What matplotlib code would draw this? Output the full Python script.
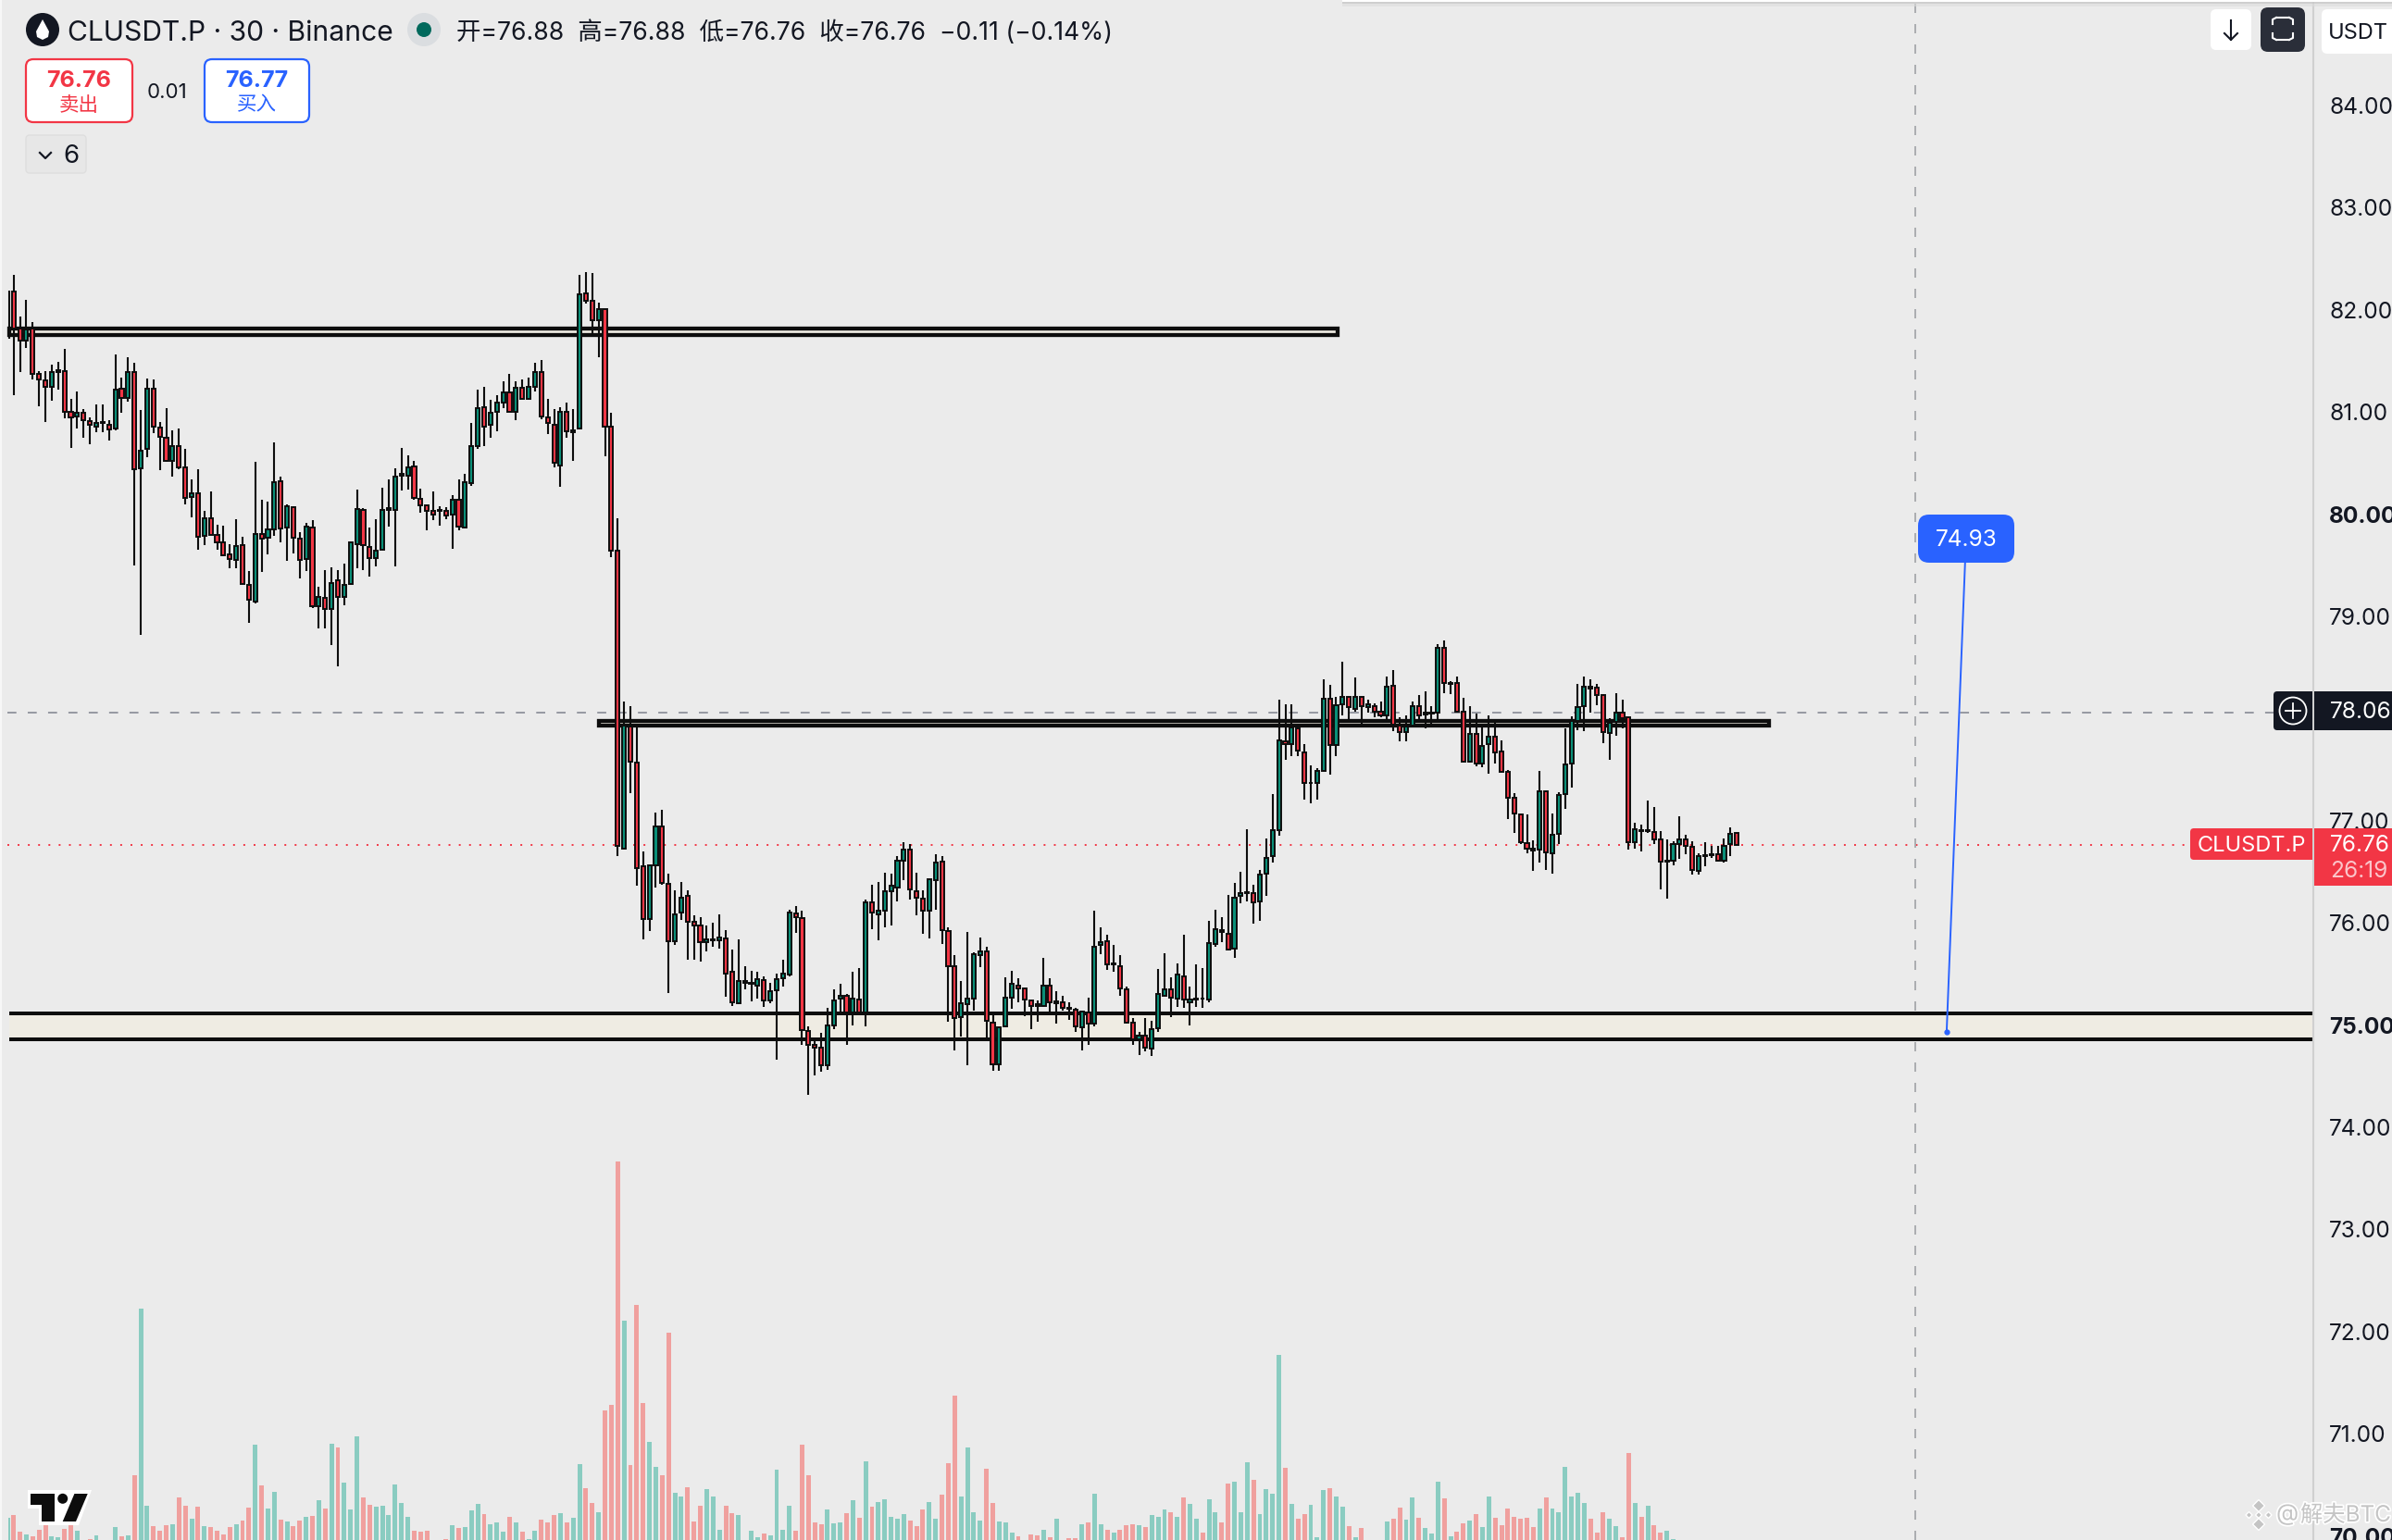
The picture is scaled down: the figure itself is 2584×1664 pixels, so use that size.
import numpy as np
import matplotlib
matplotlib.use('Agg')
import matplotlib.pyplot as plt
from matplotlib.patches import Rectangle, FancyBboxPatch, Circle, Polygon
from matplotlib.ticker import FormatStrFormatter
from matplotlib.transforms import Affine2D
import matplotlib.patheffects as pe

plt.rcParams['font.family'] = ['Inter', 'Noto Sans CJK SC', 'DejaVu Sans']

W, H = 2584, 1664
BG = '#ebebeb'
RED = '#f23645'
GREEN = '#0a8f78'
BLUE = '#2962ff'
INK = '#131722'

# 每根K线: 第一根是左边被裁掉的那根
highs = [82.19,
 82.34,81.93,82.10,81.88,81.40,81.40,81.46,81.49,81.62,81.13,
 81.20,81.03,80.95,81.07,81.07,80.92,81.56,81.34,81.54,81.48,
 81.02,81.33,81.32,80.90,81.04,80.82,80.84,80.64,80.34,80.44,
 80.03,80.22,79.90,79.89,79.71,79.95,79.78,79.44,80.51,80.14,
 80.12,80.70,80.37,80.10,80.08,79.82,79.91,79.94,79.29,79.45,
 79.48,79.45,79.52,79.72,80.24,80.06,79.87,79.95,80.26,80.34,
 80.45,80.65,80.58,80.52,80.25,80.09,80.22,80.08,80.07,80.19,
 80.34,80.39,80.89,81.22,81.25,81.12,81.16,81.30,81.37,81.30,
 81.32,81.34,81.48,81.51,81.13,81.03,81.05,81.09,81.03,82.34,
 82.37,82.36,82.07,82.01,80.99,79.96,78.17,78.12,77.93,76.70,
 76.56,77.08,77.11,76.48,76.32,76.40,76.32,76.07,76.06,75.97,
 76.00,76.08,75.93,75.74,75.84,75.58,75.53,75.52,75.48,75.41,
 75.50,75.64,76.13,76.16,76.12,74.99,74.85,74.92,75.17,75.35,
 75.40,75.30,75.52,75.56,76.23,76.37,76.40,76.49,76.48,76.65,
 76.79,76.77,76.49,76.32,76.43,76.67,76.65,75.96,75.68,75.43,
 75.91,75.71,75.86,75.77,75.10,74.98,75.47,75.53,75.46,75.37,
 75.24,75.24,75.66,75.46,75.33,75.29,75.22,75.17,75.14,75.27,
 76.12,75.96,75.88,75.78,75.68,75.38,75.07,74.93,75.07,75.04,
 75.55,75.70,75.47,75.60,75.88,75.38,75.59,75.56,76.02,76.13,
 76.06,76.27,76.39,76.50,76.92,76.37,76.52,76.83,77.26,78.18,
 78.14,78.14,77.92,77.75,77.54,77.51,78.38,78.33,78.21,78.56,
 78.21,78.40,78.21,78.18,78.15,78.17,78.41,78.47,78.01,78.03,
 78.17,78.23,78.27,78.12,78.73,78.76,78.37,78.41,78.20,78.12,
 78.05,77.93,78.03,77.98,77.79,77.50,77.27,77.07,77.06,76.81,
 77.49,77.30,77.07,77.28,77.90,78.02,78.34,78.41,78.38,78.34,
 78.24,78.00,78.25,78.18,78.01,76.98,76.96,77.20,77.13,76.90,
 76.82,76.80,77.04,76.86,76.80,76.68,76.79,76.75,76.75,76.83,
 76.93,76.88]
lows = [81.72,
 81.16,81.39,81.63,81.32,81.06,80.90,81.11,81.22,80.94,80.65,
 80.84,80.75,80.68,80.80,80.80,80.72,80.82,80.99,81.10,79.50,
 78.82,80.56,80.79,80.43,80.51,80.37,80.44,80.10,79.97,79.65,
 79.70,79.80,79.65,79.59,79.47,79.47,79.32,78.94,79.13,79.43,
 79.61,79.79,79.72,79.54,79.62,79.37,79.44,79.08,78.88,78.88,
 78.72,78.51,79.11,79.31,79.47,79.45,79.39,79.49,79.65,79.88,
 79.49,80.23,80.24,80.14,80.01,79.84,79.94,79.89,79.95,79.66,
 79.84,79.87,80.28,80.64,80.67,80.75,80.81,81.04,81.00,80.92,
 81.13,81.12,81.20,80.93,80.78,80.46,80.27,80.75,80.52,80.83,
 82.06,81.76,81.54,80.57,79.58,76.65,76.73,77.27,76.36,75.84,
 75.92,76.35,76.37,75.31,75.78,76.03,75.64,75.64,75.62,75.72,
 75.77,75.75,75.28,75.19,75.20,75.35,75.23,75.26,75.18,75.21,
 74.66,75.38,75.48,75.90,74.81,74.32,74.51,74.54,74.56,74.96,
 75.13,74.81,75.00,75.11,74.99,75.94,75.83,75.96,75.97,76.21,
 76.42,76.23,76.07,75.89,75.85,76.13,75.79,75.03,74.75,74.89,
 74.61,75.14,75.57,74.88,74.55,74.55,74.98,75.16,75.22,75.09,
 74.96,75.03,75.18,75.11,75.01,75.14,75.05,74.93,74.75,74.81,
 74.99,75.69,75.54,75.52,75.29,75.01,74.81,74.71,74.74,74.70,
 74.93,75.29,75.08,75.18,75.17,75.00,75.18,75.17,75.22,75.77,
 75.81,75.73,75.66,76.19,76.21,75.99,76.02,76.26,76.59,76.85,
 77.60,77.63,77.63,77.21,77.17,77.21,77.49,77.45,77.63,78.03,
 77.97,78.07,77.92,78.06,78.01,78.01,77.98,77.88,77.78,77.78,
 77.93,77.99,77.90,77.95,77.99,78.25,78.24,78.07,77.58,77.57,
 77.53,77.52,77.46,77.56,77.48,77.02,76.88,76.77,76.68,76.51,
 76.59,76.52,76.48,76.77,77.12,77.32,77.89,77.88,78.06,78.13,
 77.76,77.60,77.83,77.90,76.72,76.73,76.70,76.88,76.77,76.33,
 76.24,76.56,76.63,76.67,76.47,76.47,76.55,76.64,76.60,76.59,
 76.65,76.76]
body_tops = [81.83,
 82.18,81.82,81.81,81.82,81.37,81.31,81.39,81.41,81.40,81.00,
 80.99,80.99,80.91,80.89,80.90,80.87,81.22,81.23,81.39,81.39,
 80.62,81.23,81.23,80.85,80.75,80.67,80.67,80.46,80.20,80.20,
 79.96,79.96,79.80,79.72,79.61,79.69,79.70,79.31,79.81,79.81,
 79.85,80.31,80.32,80.08,80.07,79.76,79.88,79.87,79.19,79.18,
 79.33,79.35,79.31,79.72,80.05,80.04,79.68,79.64,80.04,80.06,
 80.37,80.39,80.46,80.47,80.15,80.09,80.03,80.04,80.03,80.14,
 80.14,80.31,80.67,81.04,81.05,80.99,81.09,81.19,81.19,81.24,
 81.24,81.25,81.39,81.39,80.95,80.87,81.00,81.00,80.82,82.15,
 82.16,82.09,82.01,82.01,80.86,79.64,77.93,77.92,77.57,76.55,
 76.56,76.94,76.94,76.38,76.08,76.25,76.26,76.01,75.97,75.84,
 75.84,75.86,75.85,75.52,75.43,75.43,75.41,75.45,75.44,75.33,
 75.45,75.50,76.10,76.09,76.05,74.94,74.81,74.78,75.00,75.24,
 75.29,75.29,75.26,75.25,76.20,76.20,76.12,76.31,76.36,76.61,
 76.72,76.72,76.31,76.24,76.43,76.59,76.60,75.92,75.58,75.21,
 75.26,75.69,75.72,75.72,75.02,74.98,75.27,75.40,75.39,75.36,
 75.24,75.20,75.39,75.39,75.23,75.22,75.17,75.15,75.13,75.12,
 75.77,75.81,75.82,75.60,75.58,75.35,75.02,74.90,74.90,74.96,
 75.30,75.35,75.35,75.49,75.48,75.25,75.26,75.26,75.80,75.94,
 75.93,75.89,76.25,76.29,76.30,76.29,76.47,76.64,76.91,77.79,
 77.78,77.91,77.90,77.67,77.37,77.49,78.19,78.19,78.13,78.21,
 78.21,78.21,78.21,78.14,78.12,78.07,78.31,78.32,77.93,77.92,
 78.12,78.12,78.06,78.06,78.69,78.69,78.35,78.35,78.07,77.85,
 77.85,77.73,77.82,77.82,77.68,77.48,77.22,77.06,76.78,76.73,
 77.29,77.29,76.86,77.25,77.55,77.98,78.11,78.31,78.31,78.30,
 78.23,77.96,78.06,78.06,78.01,76.92,76.91,76.91,76.89,76.82,
 76.61,76.77,76.82,76.82,76.74,76.65,76.66,76.67,76.67,76.75,
 76.87,76.88]
body_bots = [81.75,
 81.82,81.70,81.70,81.37,81.32,81.25,81.25,81.39,81.00,80.95,
 80.96,80.92,80.87,80.86,80.89,80.83,80.84,81.14,81.14,80.44,
 80.45,80.64,80.86,80.76,80.52,80.52,80.46,80.16,80.17,79.78,
 79.79,79.80,79.72,79.60,79.56,79.55,79.32,79.16,79.14,79.76,
 79.77,79.85,79.86,79.87,79.77,79.55,79.56,79.10,79.10,79.07,
 79.07,79.19,79.19,79.32,79.71,79.70,79.57,79.57,79.65,80.04,
 80.04,80.38,80.38,80.16,80.09,80.03,80.00,80.03,79.99,80.00,
 79.88,79.87,80.30,80.67,80.86,80.87,81.00,81.09,81.00,81.00,
 81.13,81.13,81.25,80.96,80.89,80.50,80.48,80.81,80.80,80.84,
 82.09,81.90,81.90,80.86,79.64,76.75,76.73,77.58,76.54,76.04,
 76.04,76.56,76.39,75.82,75.82,76.10,76.01,75.97,75.81,75.81,
 75.83,75.83,75.50,75.22,75.21,75.41,75.40,75.39,75.24,75.24,
 75.34,75.46,75.49,76.06,74.95,74.81,74.78,74.61,74.61,75.00,
 75.26,75.12,75.12,75.12,75.12,76.10,76.08,76.12,76.31,76.35,
 76.61,76.33,76.25,76.12,76.12,76.42,75.93,75.58,75.07,75.08,
 75.20,75.26,75.68,75.04,74.62,74.62,74.99,75.27,75.36,75.25,
 75.19,75.19,75.19,75.22,75.21,75.17,75.16,74.99,74.98,75.01,
 75.01,75.78,75.59,75.59,75.36,75.02,74.86,74.86,74.78,74.77,
 74.97,75.29,75.27,75.26,75.25,75.22,75.25,75.26,75.25,75.79,
 75.91,75.74,75.75,76.26,76.29,76.20,76.21,76.48,76.65,76.91,
 77.75,77.75,77.69,77.37,77.37,77.37,77.49,77.74,77.74,78.14,
 78.11,78.09,78.12,78.11,78.07,78.03,78.03,77.94,77.87,77.87,
 77.93,78.03,78.04,78.05,78.06,78.35,78.34,78.07,77.58,77.58,
 77.56,77.56,77.75,77.67,77.48,77.22,77.07,76.79,76.73,76.71,
 76.72,76.69,76.68,76.87,77.26,77.56,77.98,78.12,78.29,78.23,
 77.87,77.86,77.97,78.00,76.79,76.79,76.90,76.90,76.82,76.60,
 76.60,76.61,76.77,76.75,76.52,76.51,76.65,76.66,76.61,76.61,
 76.77,76.76]
# g=涨 r=跌
directions = ('g'
 'rrgrrrggrr' 'grrggrgrgr' 'ggrrrgrrgr' 'grrrrgrrgr' 'ggrgrrgrgr'
 'grgggrrggg' 'gggrrrrgrg' 'rgggrgggrg' 'rggrrrgrgg' 'rrgrrrgrrr'
 'ggrrggrrrg' 'ggrrgrggrg' 'gggrrrrrgg' 'grgrgrgggg' 'grrrggrrrg'
 'gggrrgggrr' 'rrgrgrrrgr' 'ggrgrrrgrg' 'ggrgrggrgg' 'rrgggrgggg'
 'rgrrgggrgg' 'rgrgrrgrrg' 'grgggrgrrg' 'rggrrrrrrr' 'grggggggrr'
 'rggrrgrgrr' 'gggrrgggrggr')
# 成交量(只露出底部以上的部分)
volumes = [76,
 84,30,21,15,36,50,15,12,39,50,
 33,3,6,18,0,0,45,15,18,213,
 753,114,48,33,51,54,141,114,72,111,
 48,45,33,21,45,54,66,108,312,180,
 105,159,69,63,48,66,78,81,132,105,
 315,303,189,102,339,141,117,111,114,84,
 183,123,78,33,30,33,0,0,6,51,
 42,45,99,120,87,54,60,30,78,60,
 30,6,33,69,60,84,90,60,75,249,
 171,123,93,423,441,1230,714,246,765,447,
 321,240,213,675,156,144,174,63,114,168,
 144,36,114,90,84,3,33,12,24,18,
 231,36,114,33,312,213,60,54,102,57,
 60,90,132,75,258,111,126,135,78,72,
 87,66,48,102,126,72,150,252,471,144,
 303,93,66,234,123,63,60,27,15,3,
 21,18,36,12,72,0,9,9,54,60,
 153,54,36,27,36,51,54,51,45,84,
 78,102,93,78,141,120,72,27,135,93,
 60,186,192,93,255,198,87,168,153,603,
 237,120,72,87,117,12,165,171,144,111,
 48,12,42,0,0,3,63,72,108,69,
 141,75,42,24,192,138,15,30,57,66,
 87,45,144,75,51,105,78,72,75,45,
 105,141,105,93,240,144,156,123,72,27,
 93,72,48,12,285,123,78,114,51,27,
 33,6,0,0,0,0,0,0,0,0,0,0]

price_ticks = [70, 71, 72, 73, 74, 75, 76, 77, 79, 80, 81, 82, 83, 84]
last_price = 76.76
alert_price = 78.06
target_price = 74.93
line_start_price = 79.52
# 矩形: 起始K线, 结束K线, 下沿, 上沿, 是否画左右边
zones = [(-0.64, 208.2, 81.75, 81.82, True),
         (92.05, 276.1, 77.93, 77.98, True),
         (-0.64, 361.66, 74.86, 75.115, False)]
line_idx = (304.0, 306.9)
cross_idx = 299.06

bar_idx = np.arange(len(highs)) - 1.0
bar_idx[0] = -0.64  # 被裁掉的那根只剩影线
highs = np.array(highs)
lows = np.array(lows)
body_tops = np.array(body_tops)
body_bots = np.array(body_bots)
colors = [GREEN if d == 'g' else RED for d in directions]
vol_colors = ['#8accc1' if d == 'g' else '#f0a09e' for d in directions]
body_w = np.full(len(highs), 0.6)
body_w[0] = 0
vol_w = np.full(len(highs), 0.72)
vol_w[0] = 0.25

fig = plt.figure(figsize=(W / 100, H / 100), dpi=100, facecolor=BG)
rect = [0, 0, 2499 / W, 1]

# 成交量
ax_vol = fig.add_axes(rect, zorder=1)
ax_vol.set_facecolor(BG)
ax_vol.bar(bar_idx, volumes, width=vol_w, color=vol_colors, linewidth=0)
ax_vol.set_xlim(-14.7 / 6.869, (2499 - 14.7) / 6.869)
ax_vol.set_ylim(3, 1664 * 3 + 3)
ax_vol.axis('off')

# 主图
ax = fig.add_axes(rect, zorder=2)
ax.patch.set_alpha(0)
ax.set_xlim(-14.7 / 6.869, (2499 - 14.7) / 6.869)
ax.set_ylim(69.96, 85.032)

for x0, x1, lo, hi, closed in zones:
    if closed:
        ax.add_patch(Rectangle((x0, lo), x1 - x0, hi - lo, facecolor='#efece3',
                               edgecolor='#0d0d0d', linewidth=3.1, zorder=2))
    else:
        ax.add_patch(Rectangle((x0, lo), x1 - x0, hi - lo, facecolor='#efece3',
                               edgecolor='none', zorder=2))
        ax.hlines([lo, hi], x0, x1, color='#0d0d0d', lw=2.9, zorder=2)

ax.axhline(alert_price, color='#9598a1', lw=1.4, ls=(0, (5, 6.3)), xmin=8 / 2499, xmax=2456 / 2499, zorder=1)
ax.axhline(last_price, color=RED, lw=1.4, ls=(0, (1, 4.7)), xmin=8 / 2499, xmax=2364 / 2499, zorder=1)
ax.axvline(cross_idx, color='#a0a2a6', lw=1.2, ls=(0, (6, 7.2)), zorder=1)

ax.vlines(bar_idx, lows, highs, color='#0d0d0d', lw=1.5, zorder=3)
ax.bar(bar_idx[1:], (body_tops - body_bots)[1:], bottom=body_bots[1:], width=body_w[1:],
       color=colors[1:], edgecolor='#0d0d0d', linewidth=1.4, zorder=4)

ax.plot([line_idx[0], line_idx[1]], [target_price, line_start_price], color=BLUE, lw=1.4, zorder=5)
ax.plot([line_idx[0]], [target_price], 'o', color=BLUE, ms=3.5, zorder=5)

ax.yaxis.tick_right()
ax.set_yticks(price_ticks)
ax.yaxis.set_major_formatter(FormatStrFormatter('%.2f'))
ax.tick_params(axis='y', length=0, pad=12.5, labelsize=17.6, labelcolor=INK)
for t, v in zip(ax.get_yticklabels(), price_ticks):
    t.set_horizontalalignment('left')
    if v % 5 == 0:
        t.set_fontweight('bold')
ax.set_xticks([])
for s in ['top', 'left', 'bottom']:
    ax.spines[s].set_visible(False)
ax.spines['right'].set_color('#d0d0d0')
ax.spines['right'].set_linewidth(1.5)

# 界面元素用像素坐标
px = Affine2D().scale(1 / W, -1 / H).translate(0, 1) + fig.transFigure


def label(x, y, s, size, color=INK, ha='left', weight='normal', **kw):
    return fig.text(x / W, 1 - (y + 3.5) / H, s, fontsize=size, color=color, ha=ha, va='center',
                    fontweight=weight, zorder=20, **kw)


def box(x0, y0, x1, y1, face, edge='none', lw=0, r=6):
    fig.add_artist(FancyBboxPatch((x0 + r, y0 + r), x1 - x0 - 2 * r, y1 - y0 - 2 * r,
                                  boxstyle='round,pad=%s,rounding_size=%s' % (r, r),
                                  facecolor=face, edgecolor=edge, linewidth=lw,
                                  transform=px, zorder=15))


def rect_px(x0, y0, x1, y1, face, alpha=1):
    fig.add_artist(Rectangle((x0, y0), x1 - x0, y1 - y0, facecolor=face, edgecolor='none',
                             alpha=alpha, transform=px, zorder=15))


def line_px(xs, ys, color, lw):
    fig.add_artist(plt.Line2D(xs, ys, color=color, lw=lw, transform=px, zorder=21))


rect_px(0, 0, 2, H, '#f7f7f7')
rect_px(1450, 0, W, 2, '#ffffff')
rect_px(1450, 2, W, 4, '#c9c9c9', 0.8)
rect_px(1450, 4, W, 7, '#dcdcdc', 0.6)

# 标题栏
fig.add_artist(Circle((46, 32), 18, facecolor='#131722', transform=px, zorder=16))
fig.add_artist(Polygon([(46, 21), (53, 34), (52, 40), (46, 43), (40, 40), (39, 34)],
                       facecolor='white', transform=px, zorder=17))
label(73, 33, 'CLUSDT.P · 30 · Binance', 21.6)
fig.add_artist(Circle((458, 32), 18, facecolor='#dadde0', transform=px, zorder=16))
fig.add_artist(Circle((458, 32), 8, facecolor='#00695c', transform=px, zorder=17))
label(493, 32, '开=76.88  高=76.88  低=76.76  收=76.76  −0.11 (−0.14%)', 19.1)

box(28, 64, 143, 132, 'white', RED, 1.6, 8)
label(85.5, 84, '76.76', 18, RED, 'center', 'bold')
label(85.5, 110, '卖出', 15.5, RED, 'center')
label(181, 97, '0.01', 16, INK, 'center')
box(221, 64, 334, 132, 'white', BLUE, 1.6, 8)
label(277.5, 84, '76.77', 18, BLUE, 'center', 'bold')
label(277.5, 110, '买入', 15.5, BLUE, 'center')

box(28, 146, 93, 187, '#e7e7e7', '#dedede', 1, 4)
line_px([43, 49, 55], [165, 171, 165], INK, 1.6)
label(68, 166, '6', 20)

# 右上按钮
box(2388, 10, 2432, 54, 'white', r=6)
line_px([2410, 2410], [22, 43], INK, 1.5)
line_px([2403, 2410, 2417], [36, 43, 36], INK, 1.5)
box(2442, 8, 2490, 56, '#2a2e39', r=8)
for xs, ys in [([2455, 2455, 2459], [26, 21, 19]), ([2473, 2477, 2477], [19, 21, 26]),
               ([2455, 2455, 2459], [36, 41, 43]), ([2473, 2477, 2477], [43, 41, 36]),
               ([2459, 2473], [19, 19]), ([2459, 2473], [43, 43])]:
    line_px(xs, ys, 'white', 1.5)
box(2508, 10, 2600, 58, 'white', r=6)
label(2515, 33, 'USDT', 17)

# 价格标签
box(2456, 747, 2510, 789, INK, r=4)
rect_px(2498, 745, 2500, 791, '#d0d0d0')
rect_px(2500, 747, W, 789, INK)
fig.add_artist(Circle((2477, 768), 14.5, facecolor='none', edgecolor='white', lw=1.3, transform=px, zorder=21))
line_px([2469, 2485], [768, 768], 'white', 1.3)
line_px([2477, 2477], [760, 776], 'white', 1.3)
label(2517, 765.5, '78.06', 17.6, 'white')

box(2366, 895, 2510, 929, RED, r=4)
rect_px(2498, 893, 2500, 960, '#d0d0d0')
rect_px(2500, 895, W, 957, RED)
label(2432, 910.5, 'CLUSDT.P', 17, 'white', 'center')
label(2517, 910.5, '76.76', 17.6, 'white')
label(2517, 938, '26:19', 17.6, '#fbc5ca')

# 蓝色价格框
box(2072, 556, 2176, 608, BLUE, r=12)
label(2124, 580.5, '74.93', 17.6, 'white', 'center')

# TV logo
fig.add_artist(Polygon([(30, 1610), (99, 1610), (85, 1648), (42, 1648), (42, 1630), (30, 1630)],
                       facecolor='white', transform=px, zorder=16))
fig.add_artist(Polygon([(33.3, 1614), (59, 1614), (59, 1644), (45.3, 1644), (45.3, 1626), (33.3, 1626)],
                       facecolor='#0d0d0d', transform=px, zorder=17))
fig.add_artist(Circle((67.7, 1619.3), 5.5, facecolor='#0d0d0d', transform=px, zorder=17))
fig.add_artist(Polygon([(80.4, 1614), (94.7, 1614), (82, 1644), (67.7, 1644)],
                       facecolor='#0d0d0d', transform=px, zorder=17))

# 水印
wm = [pe.withStroke(linewidth=2.5, foreground='white')]
for cx, cy, r in [(2440, 1627, 6.5), (2429.5, 1637, 3.5), (2450.5, 1637, 3.5), (2440, 1647, 6.5), (2440, 1637, 3.5)]:
    p = Polygon([(cx, cy - r), (cx + r, cy), (cx, cy + r), (cx - r, cy)], facecolor='#c4c4c4',
                edgecolor='white', lw=1.0, transform=px, zorder=22)
    fig.add_artist(p)
label(2459, 1633, '@', 18, '#c4c4c4', path_effects=wm)
label(2485, 1634, '解夫BTC', 17.5, '#c4c4c4', path_effects=wm)

fig.savefig('out.png', dpi=100, facecolor=BG)
